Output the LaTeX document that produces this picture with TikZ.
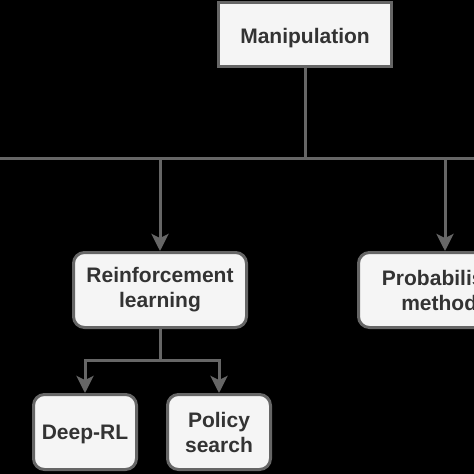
\documentclass[tikz,border=0pt]{standalone}
\usepackage{fontspec}
\setmainfont{Liberation Sans}
\usetikzlibrary{arrows.meta}
\definecolor{linegray}{HTML}{666666}
\definecolor{boxfill}{HTML}{F5F5F5}
\definecolor{txt}{HTML}{333333}
\tikzset{
  sqbox/.style={draw=linegray, line width=3pt, fill=boxfill, inner sep=0pt, align=center,
    text=txt, font=\fontsize{21}{25}\selectfont\bfseries},
  rbox/.style={sqbox, rounded corners=11pt},
  conn/.style={draw=linegray, line width=3pt},
  arr/.style={conn, -{Stealth[length=17pt, width=17pt, inset=4pt]}}
}
\begin{document}
\begin{tikzpicture}[x=1pt, y=-1pt]
\useasboundingbox (0,0) rectangle (474,474);
\fill[black] (0,0) rectangle (474,474);
\clip (0,0) rectangle (474,474);
\node[sqbox, minimum width=173pt, minimum height=64pt] (manip) at (305,34.5) {\raisebox{-4pt}[\height][\depth]{Manipulation}};
\node[rbox, minimum width=173pt, minimum height=75pt] (rl) at (160,290) {Reinforcement\\learning};
\node[rbox, minimum width=173pt, minimum height=75pt] (prob) at (445,290) {Probabilistic\\methods};
\node[rbox, minimum width=103pt, minimum height=75pt] (deep) at (85,432) {\raisebox{-2pt}[\height][\depth]{Deep-RL}};
\node[rbox, minimum width=103pt, minimum height=75pt] (policy) at (219,432) {Policy\\search};
\coordinate (hl) at (-5,158);
\coordinate (hr) at (480,158);
\coordinate (j1) at (305,158);
\coordinate (j2) at (160,360);
\draw[conn] (manip.south) -- (j1);
\draw[conn] (hl) -- (hr);
\draw[arr] (rl.north |- j1) -- (rl.north);
\draw[arr] (prob.north |- j1) -- (prob.north);
\draw[conn] (rl.south) -- (j2);
\draw[arr] (j2) -| (deep.north);
\draw[arr] (j2) -| (policy.north);
\end{tikzpicture}
\end{document}
